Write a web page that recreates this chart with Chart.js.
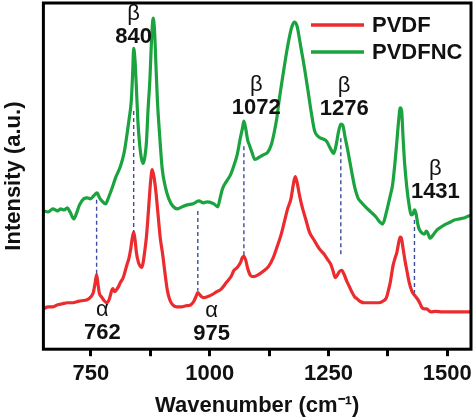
<!DOCTYPE html>
<html>
<head>
<meta charset="utf-8">
<script src="https://cdn.jsdelivr.net/npm/chart.js@4.4.1/dist/chart.umd.min.js"></script>
<style>
  body { margin: 0; background: #fff; }
  #wrap { width: 474px; height: 419px; }
</style>
</head>
<body>
<div id="wrap"><canvas id="ramanChart"></canvas></div>
<script>
// PVDF spectrum (wavenumber, intensity a.u.)
const pvdfWn = [650, 660, 670, 680, 690, 700, 710, 720, 730, 742, 750, 755, 759, 762, 765, 768, 772, 778, 784, 789, 793, 796, 800, 804, 808, 812, 818, 826, 830, 834, 837, 840, 843, 846, 850, 854, 857, 860, 863, 867, 870, 873, 876, 879, 883, 887, 891, 896, 901, 906, 911, 916, 922, 930, 940, 950, 960, 966, 971, 975, 979, 983, 988, 995, 1005, 1015, 1023, 1035, 1045, 1051, 1058, 1065, 1069, 1072, 1076, 1080, 1086, 1092, 1103, 1112, 1124, 1134, 1143, 1150, 1157, 1164, 1171, 1176, 1180, 1184, 1188, 1192, 1197, 1202, 1210, 1220, 1230, 1241, 1248, 1255, 1260, 1264, 1268, 1273, 1278, 1283, 1288, 1294, 1299, 1305, 1310, 1318, 1325, 1340, 1356, 1366, 1372, 1376, 1380, 1386, 1390, 1394, 1398, 1401, 1404, 1407, 1411, 1415, 1420, 1426, 1432, 1437, 1442, 1447, 1452, 1457, 1462, 1466, 1475, 1490, 1510, 1530, 1552];
const pvdfI = [40, 42, 42, 44, 45, 46, 46, 47, 48, 49, 52, 56, 66, 74, 64, 55, 52, 48, 46, 50, 57, 60, 57, 59, 62, 66, 71, 84, 90, 100, 110, 116, 108, 95, 86, 82, 81, 86, 96, 112, 130, 150, 168, 178, 170, 155, 135, 110, 94, 75, 58, 49, 44, 42, 42, 43, 44, 47, 52, 56, 54, 52, 51, 52, 54, 57, 59, 66, 72, 78, 81, 86, 91, 92, 88, 80, 73, 72, 74, 77, 82, 91, 103, 113, 126, 139, 149, 163, 171, 165, 155, 146, 137, 129, 116, 108, 100, 94, 89, 84, 77, 71, 73, 77, 78, 74, 68, 62, 57, 52, 50, 47, 46, 46, 46, 48, 51, 58, 66, 83, 90, 96, 106, 111, 109, 100, 88, 78, 66, 57, 53, 50, 46, 41, 40, 40, 38, 37, 37.5, 37, 37, 37, 37];

// PVDFNC spectrum
const pvdfncWn = [650, 660, 670, 680, 686, 694, 700, 706, 714, 720, 726, 735, 742, 749, 756, 763, 768, 773, 781, 786, 791, 797, 802, 812, 820, 826, 831, 835, 838, 840, 843, 846, 849, 852, 856, 860, 864, 867, 870, 874, 878, 881, 884, 887, 890, 895, 900, 907, 914, 922, 932, 942, 953, 965, 977, 987, 995, 1009, 1017, 1022, 1027, 1035, 1044, 1051, 1058, 1064, 1069, 1072, 1076, 1080, 1083, 1089, 1095, 1107, 1115, 1122, 1130, 1135, 1141, 1146, 1153, 1160, 1166, 1172, 1178, 1184, 1188, 1192, 1199, 1206, 1213, 1221, 1228, 1234, 1240, 1246, 1254, 1261, 1266, 1271, 1276, 1280, 1285, 1291, 1298, 1306, 1312, 1318, 1328, 1339, 1350, 1358, 1364, 1372, 1380, 1385, 1390, 1394, 1398, 1401, 1404, 1407, 1410, 1415, 1420, 1424, 1428, 1431, 1434, 1438, 1441, 1447, 1452, 1456, 1459, 1464, 1470, 1478, 1487, 1497, 1507, 1515, 1525, 1535, 1547, 1552];
const pvdfncI = [137, 136, 139, 137, 139, 138, 140, 136, 129, 135, 143, 149, 150, 149, 152, 155, 150, 147, 144, 149, 155, 163, 170, 181, 195, 213, 230, 246, 275, 298, 285, 256, 225, 206, 190, 184, 192, 206, 235, 266, 310, 328, 315, 280, 246, 210, 179, 160, 149, 142, 139, 141, 143, 144, 147, 145, 146, 144, 141, 150, 159, 166, 173, 182, 193, 208, 219, 226, 218, 207, 203, 195, 188, 191, 193, 195, 203, 213, 228, 246, 268, 289, 305, 318, 324, 320, 310, 299, 280, 259, 237, 216, 211, 209, 208, 206, 199, 194, 202, 215, 223, 222, 210, 196, 178, 159, 150, 146, 141, 136, 131, 126, 124, 136, 152, 163, 185, 206, 228, 239, 236, 210, 186, 160, 142, 133, 134, 138, 135, 124, 119, 115, 114, 117, 115, 110, 113, 118, 121, 124, 126, 128, 129, 130, 132, 132];

// marked bands: position, phase, dashed guide from/to (intensity)
const bandWn = [762, 840, 975, 1072, 1276, 1431];
const bandPhase = ['α', 'β', 'α', 'β', 'β', 'β'];
const guideTop = [148, 236, 137, 201, 209, 128];
const guideBottom = [73, 116, 58, 93, 91, 56];
// where each band label sits (wavenumber, intensity of the number line)
const labelWn = [774, 840, 1004, 1098, 1283, 1475];
const labelI = [16, 309, 15, 239, 238, 156];

const xTickValues = [750, 875, 1000, 1125, 1250, 1375, 1500];

const FONT = "'Liberation Sans', Arial, sans-serif";
const RED = '#ec2b2e';
const GREEN = '#1ba33f';

function pairs(xs, ys) {
  return xs.map((x, i) => ({ x: x, y: ys[i] }));
}

// frame, dashed guides, band labels and legend
const decorations = {
  id: 'decorations',
  afterDatasetsDraw(chart) {
    const ctx = chart.ctx;
    const xs = chart.scales.x;
    const ys = chart.scales.y;
    const area = chart.chartArea;

    ctx.save();
    ctx.strokeStyle = '#3d4c9e';
    ctx.lineWidth = 1.4;
    ctx.setLineDash([4, 3]);
    bandWn.forEach((wn, i) => {
      const px = xs.getPixelForValue(wn);
      ctx.beginPath();
      ctx.moveTo(px, ys.getPixelForValue(guideTop[i]));
      ctx.lineTo(px, ys.getPixelForValue(guideBottom[i]));
      ctx.stroke();
    });
    ctx.setLineDash([]);

    ctx.fillStyle = '#111';
    ctx.textAlign = 'center';
    ctx.textBaseline = 'middle';
    bandWn.forEach((wn, i) => {
      const px = xs.getPixelForValue(labelWn[i]);
      const py = ys.getPixelForValue(labelI[i]);
      ctx.font = '22px ' + FONT;
      ctx.fillText(bandPhase[i], px, py - 23);
      ctx.font = 'bold 22px ' + FONT;
      ctx.fillText(String(wn), px, py);
    });

    // legend
    ctx.textAlign = 'left';
    ctx.font = 'bold 22px ' + FONT;
    chart.data.datasets.forEach((ds, i) => {
      const y = area.top + 22 + i * 27;
      const x0 = area.right - 160;
      ctx.strokeStyle = ds.borderColor;
      ctx.lineWidth = 3.5;
      ctx.beginPath();
      ctx.moveTo(x0, y);
      ctx.lineTo(x0 + 53, y);
      ctx.stroke();
      ctx.fillStyle = '#111';
      ctx.fillText(ds.label, x0 + 61, y + 1);
    });

    ctx.strokeStyle = '#000';
    ctx.lineWidth = 3;
    ctx.strokeRect(area.left, area.top, area.right - area.left, area.bottom - area.top);
    ctx.restore();
  }
};

const ctx = document.getElementById('ramanChart').getContext('2d');
const ramanChart = new Chart(ctx, {
  type: 'line',
  data: {
    datasets: [
      {
        label: 'PVDF',
        data: pairs(pvdfWn, pvdfI),
        borderColor: RED,
        borderWidth: 3.2,
        pointRadius: 0,
        cubicInterpolationMode: 'monotone',
        fill: false
      },
      {
        label: 'PVDFNC',
        data: pairs(pvdfncWn, pvdfncI),
        borderColor: GREEN,
        borderWidth: 3.2,
        pointRadius: 0,
        cubicInterpolationMode: 'monotone',
        fill: false
      }
    ]
  },
  options: {
    responsive: true,
    maintainAspectRatio: false,
    animation: false,
    layout: { padding: { left: 1, right: 3, top: 3, bottom: 0 } },
    plugins: {
      legend: { display: false },
      tooltip: { enabled: false }
    },
    scales: {
      x: {
        type: 'linear',
        min: 650,
        max: 1550,
        afterBuildTicks: scale => {
          scale.ticks = xTickValues.map(v => ({ value: v }));
        },
        afterFit: scale => {
          // last label fits inside the canvas; keep the frame at the right edge
          scale.paddingRight = 0;
        },
        border: { display: false },
        grid: {
          drawOnChartArea: false,
          drawTicks: true,
          tickLength: 7,
          tickWidth: 3,
          tickColor: '#000'
        },
        ticks: {
          color: '#111',
          padding: 5,
          maxRotation: 0,
          autoSkip: false,
          font: { family: FONT, size: 22, weight: 'bold' },
          callback: v => (v % 250 === 0 ? String(v) : '')
        },
        title: {
          display: true,
          text: 'Wavenumber (cm⁻¹)',
          color: '#111',
          padding: { top: 0, bottom: 0 },
          font: { family: FONT, size: 22, weight: 'bold' }
        }
      },
      y: {
        min: 0,
        max: 343,
        border: { display: false },
        grid: { display: false, drawTicks: false },
        ticks: { display: false },
        title: {
          display: true,
          text: 'Intensity (a.u.)',
          color: '#111',
          padding: { top: 0, bottom: 16 },
          font: { family: FONT, size: 22, weight: 'bold' }
        }
      }
    }
  },
  plugins: [decorations]
});
</script>
</body>
</html>
